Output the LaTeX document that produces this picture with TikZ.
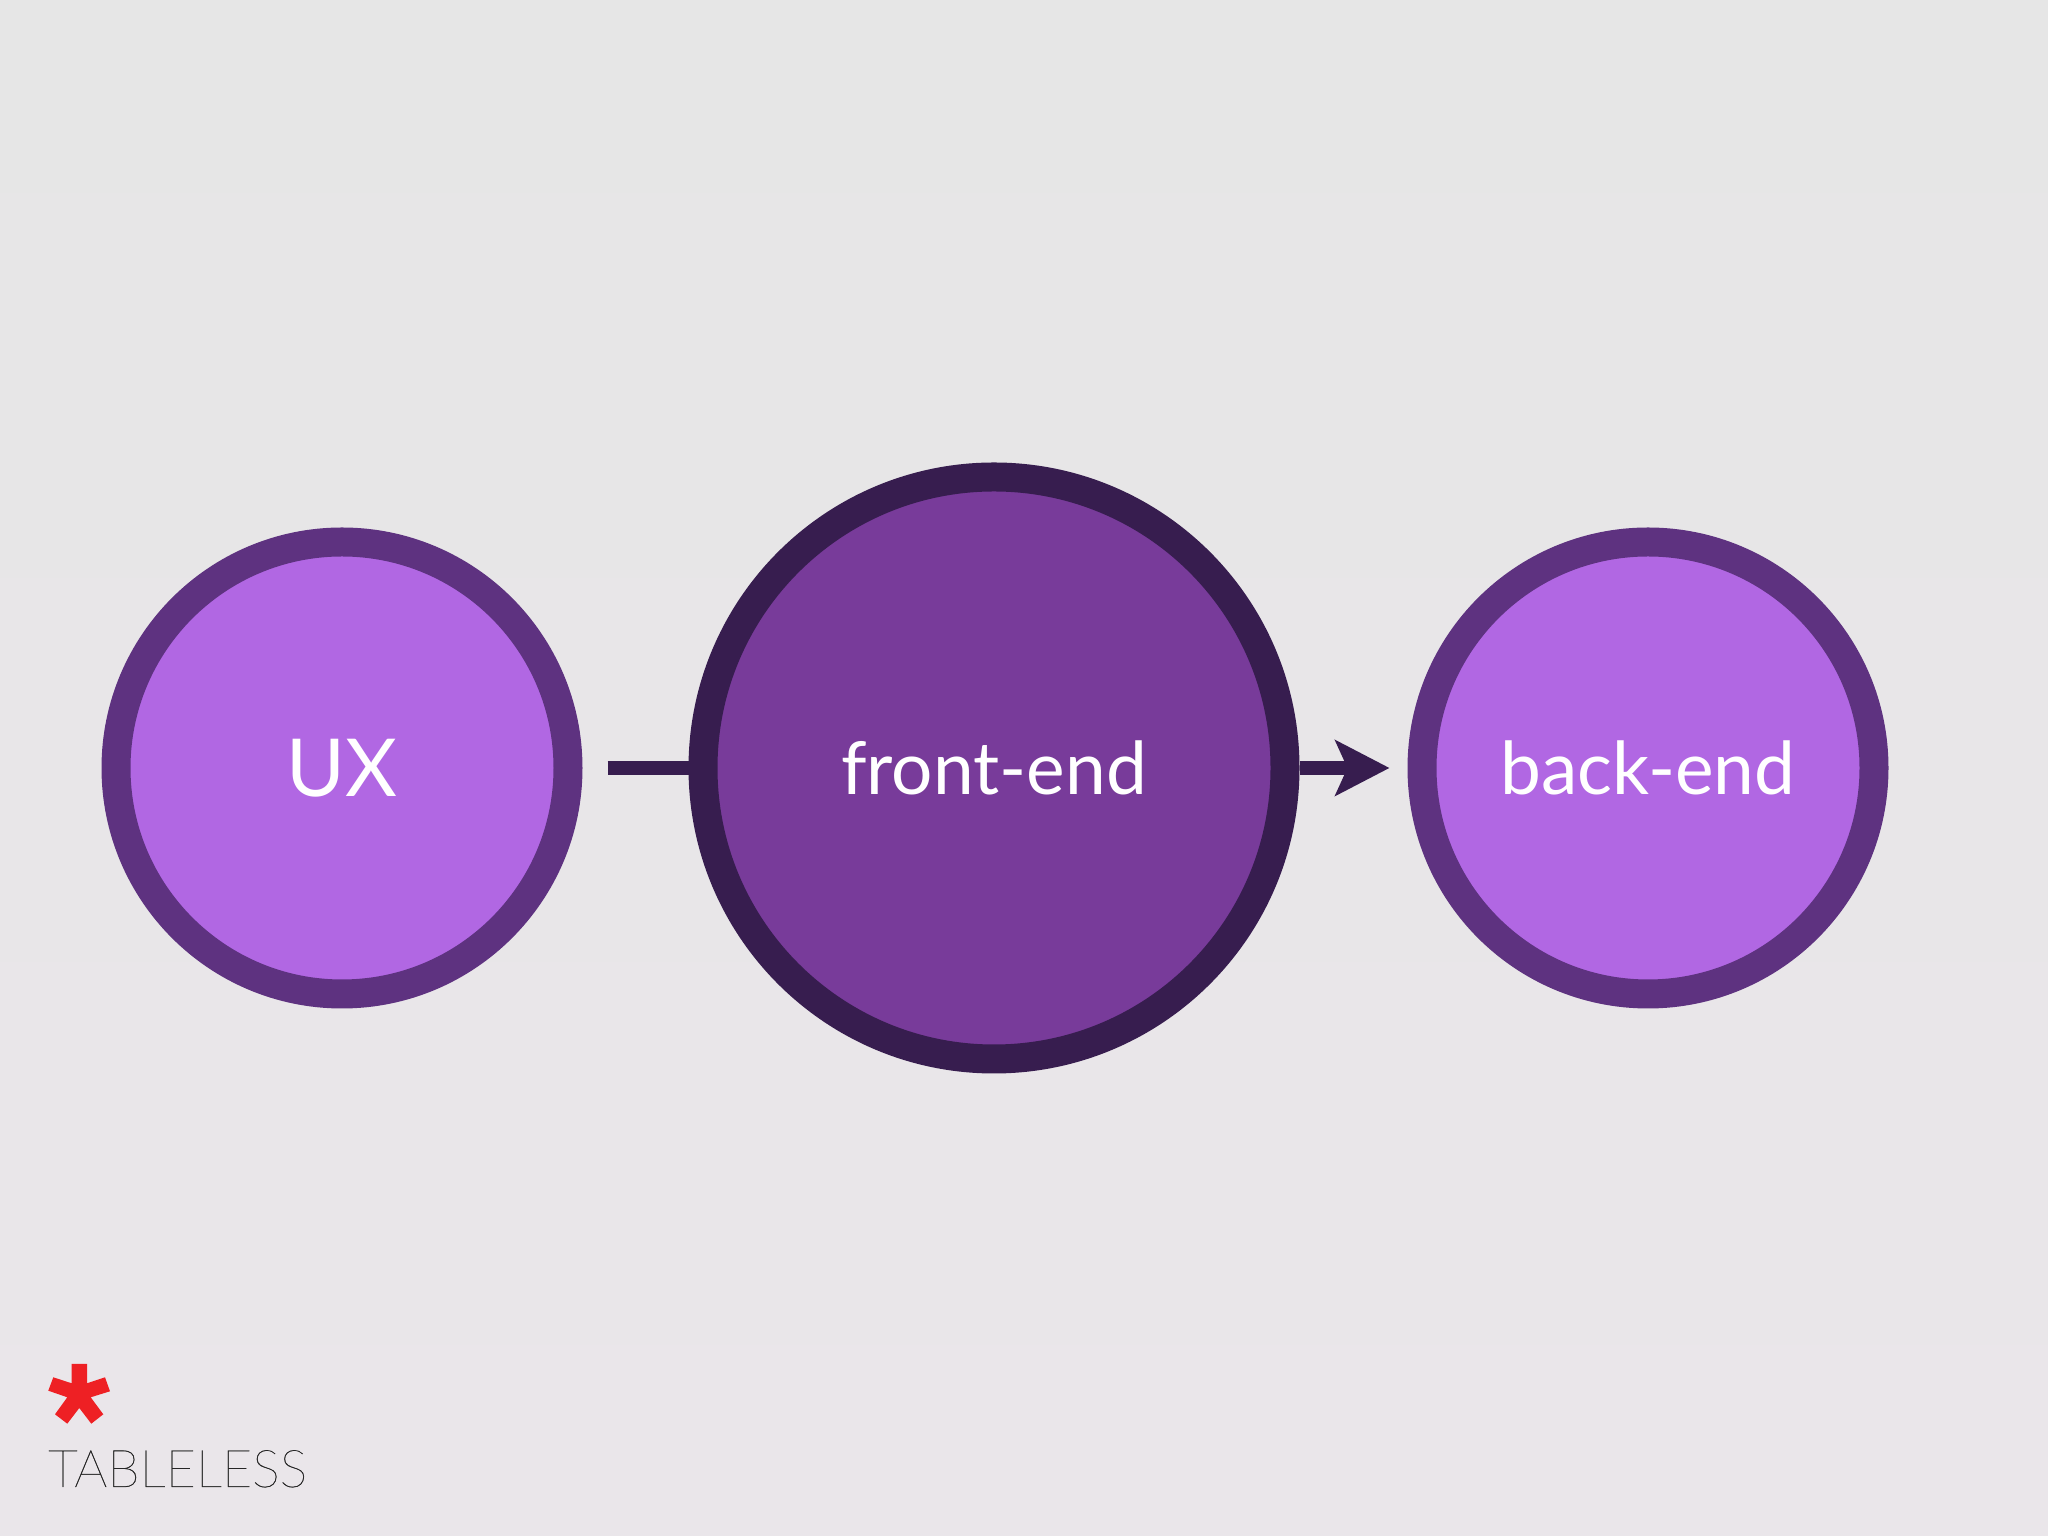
\documentclass[tikz,border=0pt]{standalone}
\usepackage{fontspec}
\setmainfont{Lato}
\newfontfamily\thinfont[FakeBold=0.5]{Lato Thin}
\usetikzlibrary{arrows.meta}
\definecolor{paperTop}{HTML}{E6E6E6}
\definecolor{paperBottom}{HTML}{EAE6EA}
\definecolor{lightFill}{HTML}{B167E3}
\definecolor{lightRing}{HTML}{5E3280}
\definecolor{darkFill}{HTML}{783B9A}
\definecolor{darkRing}{HTML}{371D4F}
\definecolor{starRed}{HTML}{EE2024}
\tikzset{
  lightball/.style={circle, draw=lightRing, fill=lightFill, line width=29pt, minimum size=452pt, text=white, inner sep=0pt, font=\fontsize{73}{73}\selectfont},
  darkball/.style={circle, draw=darkRing, fill=darkFill, line width=29pt, minimum size=582pt, text=white, inner sep=0pt, font=\fontsize{73}{73}\selectfont},
  link/.style={draw=darkRing, line width=14pt}
}
\begin{document}
\begin{tikzpicture}[x=1pt, y=1pt]
  \useasboundingbox (0, 0) rectangle (2048, 1536);
  \fill [top color=paperTop, bottom color=paperBottom] (0, 0) rectangle (2048, 1536);

  \node [lightball, font=\fontsize{80}{80}\selectfont] (ux) at (342, 768) {UX};
  \node [darkball] (front) at (994, 768) {front-end};
  \node [lightball] (back) at (1648, 768) {back-end};

  \draw [link, shorten <=25pt] (ux) -- (front);
  \draw [link, shorten >=18pt, -{Stealth[length=54pt, width=55pt, inset=12pt]}] (front) -- (back);

  \fill [starRed] (71.7, 172) -- (87, 172) -- (87, 152.7) -- (105, 158.7) -- (110, 144.7)
    -- (90.7, 138.7) -- (103.3, 121.7) -- (91.3, 112.3) -- (79.3, 128) -- (67.3, 112.3)
    -- (55, 121.7) -- (67.3, 138.7) -- (48.3, 145.3) -- (53.3, 158.7) -- (71.7, 152.7) -- cycle;
  \node [anchor=base west, inner sep=0pt, text=black!85, font=\thinfont\fontsize{52}{52}\selectfont] (brand) at (48, 49) {TABLELESS};
\end{tikzpicture}
\end{document}
